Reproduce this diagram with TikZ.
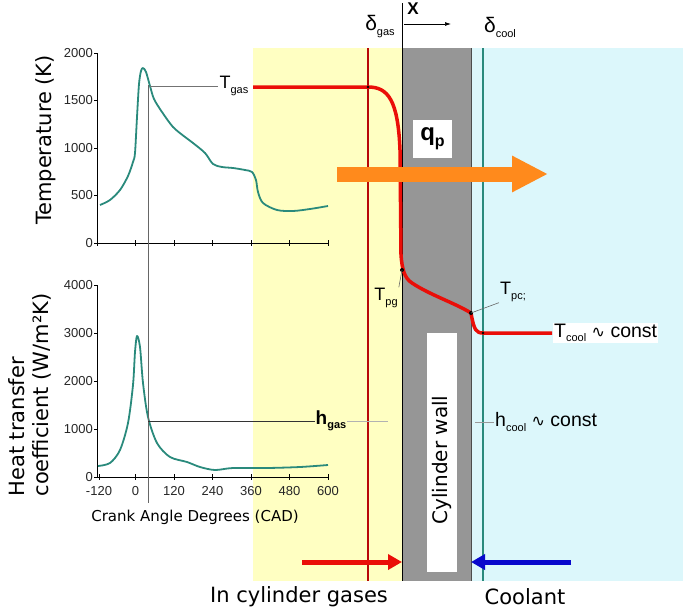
\documentclass[tikz,border=0pt]{standalone}
\usepackage{fontspec}
\setmainfont{DejaVu Sans}
\newfontfamily\arialfont{Liberation Sans}
\newfontfamily\symfont{DejaVu Sans}
\usetikzlibrary{positioning}
\usetikzlibrary{arrows.meta}

\definecolor{gasyellow}{HTML}{FFFFC2}
\definecolor{coolcyan}{HTML}{DCF7FB}
\definecolor{wallgray}{HTML}{969696}
\definecolor{curveteal}{HTML}{2A8A7C}
\definecolor{tred}{HTML}{EA0E08}
\definecolor{deltared}{HTML}{B80808}
\definecolor{qorange}{HTML}{FF8A1C}
\definecolor{coolblue}{HTML}{0808CC}

\newcommand{\lowsub}[1]{\raisebox{-0.45ex}{\fontsize{11}{11}\selectfont #1}}
\newcommand{\approxsym}{{\symfont\fontsize{16}{16}\selectfont ∿}}

\tikzset{
  ticklbl/.style={font=\arialfont\fontsize{13}{13}\selectfont, text=black!85, inner sep=1pt},
  curve/.style={curveteal, line width=1.8pt, line join=round},
  leader/.style={black!55, line width=0.7pt},
  lbl/.style={font=\arialfont\fontsize{18}{18}\selectfont, inner sep=1pt},
  biglbl/.style={font=\arialfont\fontsize{19.5}{19.5}\selectfont, inner sep=1pt},
  deltalbl/.style={font=\arialfont\fontsize{21}{21}\selectfont, inner sep=1pt},
  axislbl/.style={font=\fontsize{21}{24}\selectfont, rotate=90},
  templine/.style={tred, line width=3.5pt, line join=round},
}

\begin{document}
\begin{tikzpicture}[x=1pt,y=-1pt]
    \useasboundingbox (0,0) rectangle (685,613);

    % regions
    \fill[gasyellow] (253,48) rectangle (402,581);
    \fill[coolcyan] (471,48) rectangle (683,581);
    \fill[wallgray] (402,48) rectangle (471,581);
    \draw[black!70, line width=0.6pt] (471,48) -- (471,581);
    \draw[black, line width=0.9pt] (402,3) -- (402,581);
    \draw[deltared, line width=1.4pt] (368,48) -- (368,581);
    \draw[curveteal, line width=2pt] (483,48) -- (483,581);

    % boundary layer labels
    \node[deltalbl] (dgas) at (380,27) {δ\lowsub{gas}};
    \node[deltalbl] (dcool) at (500,27) {δ\lowsub{cool}};
    \node[lbl, font=\arialfont\bfseries\fontsize{17}{17}\selectfont] (xlbl) at (413,9) {X};
    \coordinate (xs) at (404,24);
    \coordinate (xe) at (451,24);
    \draw[-{Latex[length=6pt,width=4pt]}, line width=0.7pt] (xs) -- (xe);

    % top plot: temperature
    \draw[line width=0.9pt] (97,53) -- (97,243) -- (328,243);
    \foreach \v/\py in {2000/53,1500/100,1000/148,500/195,0/243} {
        \draw[line width=0.6pt] (94,\py) -- (97,\py);
        \node[ticklbl, anchor=east] at (94,\py) {\v};
    }
    \foreach \px in {97,135.5,174,212.5,251,289.5,328}
        \draw[line width=0.6pt] (\px,240) -- (\px,246);
    \draw[curve] plot[smooth, tension=0.5] coordinates {
        (100,205) (110,200) (120,190) (128,176) (133,162) (135,153)
        (137,117) (139,84) (141,71) (143,68) (146,72) (150,86) (154,99)
        (162,112) (173,127) (185,137) (193,143) (205,153) (213,164)
        (222,167) (233,168) (245,170) (252,172) (256,180) (258,192)
        (263,203) (277,210) (293,211) (310,209) (328,206)};
    \node[axislbl] (tlbl) at (46,140) {Temperature (K)};

    % bottom plot: heat transfer coefficient
    \draw[line width=0.9pt] (97,285) -- (97,477) -- (328,477);
    \foreach \v/\py in {4000/285,3000/333,2000/381,1000/429,0/477} {
        \draw[line width=0.6pt] (94,\py) -- (97,\py);
        \node[ticklbl, anchor=east] at (94,\py) {\v};
    }
    \foreach \v/\px in {-120/99,0/135.5,120/174,240/212.5,360/251,480/289.5,600/328} {
        \draw[line width=0.6pt] (\px,474) -- (\px,480);
        \node[ticklbl, anchor=north] at (\px,485) {\v};
    }
    \draw[curve] plot[smooth, tension=0.5] coordinates {
        (98,466) (110,463) (120,450) (128,423) (133,385) (135,352)
        (137,336) (140,347) (143,383) (148,417) (157,443) (170,457)
        (187,462) (200,467) (215,470) (233,468) (267,468) (300,467) (328,465)};
    \node[font=\fontsize{15}{15}\selectfont] (cad) at (195,517) {Crank Angle Degrees (CAD)};
    \node[axislbl, align=left] (hlbl) at (30,395) {Heat transfer\\coefficient (W/m²K)};

    % leaders from the plots
    \draw[black!60, line width=0.6pt] (148,85) -- (148,503);
    \node[lbl] (tgas) at (234,86) {T\lowsub{gas}};
    \coordinate (tpeak) at (150,86);
    \draw[leader] (tpeak) -- (tgas.west);
    \node[lbl, font=\arialfont\bfseries\fontsize{19}{19}\selectfont] (hgas) at (331,421) {h\lowsub{gas}};
    \coordinate (hpeak) at (148,421);
    \coordinate (hend) at (388,421);
    \draw[leader, black!80] (hpeak) -- (hgas.west);
    \draw[leader, black!30] (hgas.east) -- (hend);

    % temperature profile through the wall
    \coordinate (pd) at (368,87);
    \coordinate (pg) at (402,270);
    \coordinate (pc) at (471,313);
    \coordinate (pw) at (483,333);
    \coordinate (pe) at (552,333);
    \draw[templine] (253,87) -- (pd)
        .. controls (388,87) and (398,100) .. (400,150)
        -- (401,255) .. controls (402,268) and (404,278) .. (412,283)
        .. controls (430,295) and (455,303) .. (pc)
        .. controls (474,330) and (476,333) .. (pw) -- (pe);
    \fill (pd) circle (1.3pt);
    \fill (pg) circle (2pt);
    \fill (pc) circle (2pt);
    \fill (pw) circle (1.3pt);

    \node[lbl, fill=gasyellow] (tpg) at (386,298) {T\lowsub{pg}};
    \draw[black!60, line width=0.6pt] (tpg.north east) -- (pg);
    \node[lbl, fill=coolcyan] (tpc) at (513,292) {T\lowsub{pc;}};
    \draw[black!60, line width=0.6pt] (tpc.south west) -- (pc);
    \node[biglbl, fill=white, anchor=west] (tcool) at (553,333) {T\lowsub{cool} \approxsym{} const};
    \node[biglbl, anchor=west] (hcool) at (494,422) {h\lowsub{cool} \approxsym{} const};
    \coordinate (hcs) at (475,422);
    \draw[black!40, line width=0.6pt] (hcs) -- (hcool.west);

    % heat flux arrow
    \node[fill=white, minimum width=39pt, minimum height=38pt, inner sep=0pt] (qbox) at (432.5,139) {};
    \node[font=\arialfont\bfseries\fontsize{24}{24}\selectfont] (qp) at (qbox.center) {q\raisebox{-0.5ex}{\fontsize{16}{16}\selectfont p}};
    \coordinate (qs) at (337,174);
    \coordinate (qe) at (548,174);
    \draw[qorange, line width=15pt, -{Triangle[length=36pt,width=34pt]}] (qs) -- (qe);

    % cylinder wall
    \node[fill=white, minimum width=30pt, minimum height=239pt, inner sep=0pt] (wallbox) at (442,452.5) {};
    \node[rotate=90, font=\fontsize{20}{20}\selectfont] (walltxt) at (442,460) {Cylinder wall};

    % bottom arrows
    \coordinate (ga) at (302,562);
    \coordinate (gb) at (402,562);
    \draw[tred, line width=5pt, -{Triangle[length=14pt,width=15pt]}] (ga) -- (gb);
    \coordinate (ca) at (571,562);
    \coordinate (cb) at (471,562);
    \draw[coolblue, line width=5pt, -{Triangle[length=14pt,width=15pt]}] (ca) -- (cb);

    \node[font=\fontsize{21}{21}\selectfont] (gases) at (299,597) {In cylinder gases};
    \node[font=\fontsize{21}{21}\selectfont] (coolant) at (525,597) {Coolant};
\end{tikzpicture}
\end{document}
